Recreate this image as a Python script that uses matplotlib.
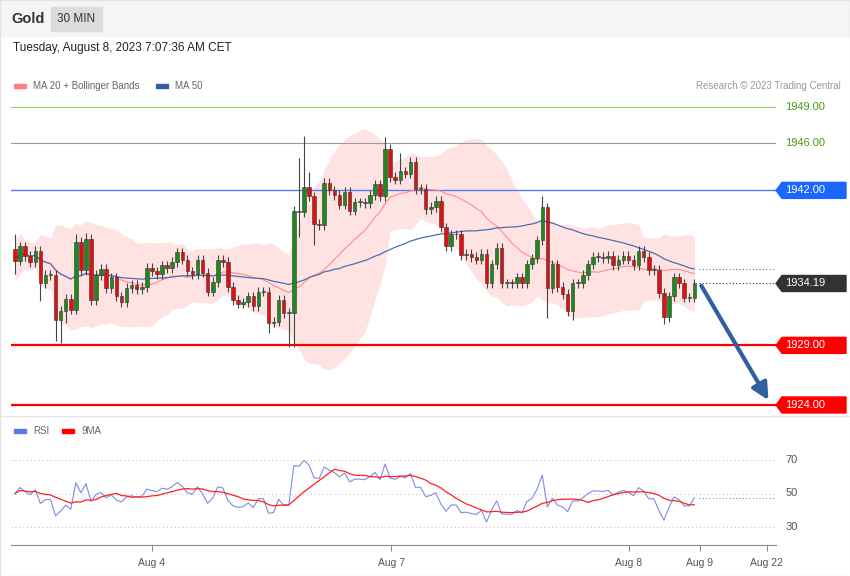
import numpy as np
import pandas as pd
import matplotlib
matplotlib.use("Agg")
import matplotlib.pyplot as plt
from matplotlib.patches import Rectangle, Polygon

plt.rcParams['font.family'] = ['Liberation Sans', 'DejaVu Sans']

# %%
# 30 min closes
closes = [
    1936.1, 1937.3, 1936.5, 1936.0, 1936.9, 1934.2, 1934.9, 1934.9, 1931.1, 1931.9,
    1932.9, 1932.0, 1937.7, 1935.3, 1937.9, 1932.8, 1934.9, 1935.4, 1933.8, 1934.7,
    1933.1, 1932.6, 1933.8, 1934.1, 1933.7, 1933.9, 1935.5, 1935.2, 1935.0, 1935.7,
    1935.5, 1936.0, 1936.8, 1936.2, 1935.2, 1935.0, 1936.2, 1935.1, 1933.5, 1934.3,
    1936.2, 1936.0, 1933.9, 1932.8, 1932.5, 1932.6, 1933.1, 1932.3, 1933.5, 1933.5,
    1930.9, 1931.0, 1932.8, 1931.7, 1931.7, 1940.3, 1940.2, 1942.3, 1941.5, 1939.2,
    1939.1, 1942.6, 1942.0,
    1941.6, 1940.8, 1941.9, 1940.3, 1941.0, 1941.0, 1940.9, 1941.6, 1942.5, 1941.5,
    1945.5, 1943.1, 1942.9, 1943.6, 1943.4, 1944.4, 1942.1, 1942.1, 1940.4, 1940.6,
    1941.1, 1938.9, 1937.3, 1938.3, 1938.3, 1936.6, 1936.7, 1936.4, 1936.2, 1936.7,
    1934.2, 1935.8, 1937.2, 1934.2, 1934.2,
    1934.2, 1934.7, 1934.2, 1935.8, 1936.3, 1937.8, 1940.6, 1933.8, 1935.8, 1933.9,
    1933.3, 1931.9, 1934.2, 1934.2, 1934.9, 1935.8, 1936.4, 1936.4, 1936.3, 1936.5,
    1935.7, 1936.2, 1936.5, 1936.2, 1935.7, 1936.9, 1936.4, 1935.3, 1935.3, 1933.4,
    1931.4, 1933.1, 1934.7, 1934.2, 1933.0, 1933.0, 1934.2,
]
first_open = 1937.1
# notable wicks (candle index: length), others are short
upper_wicks = {0: 1.2, 12: 0.6, 14: 0.5, 56: 4.4, 57: 4.3, 58: 1.2, 73: 1.0, 76: 1.5, 104: 0.9, 105: 0.3}
lower_wicks = {0: 1.1, 5: 1.5, 8: 1.7, 9: 1.9, 10: 1.0, 50: 0.9, 54: 2.8, 55: 2.8, 56: 2.1, 59: 1.8,
               105: 2.5, 110: 0.8, 128: 0.6, 129: 0.4}
rsi_seed = 0.6  # average gain/loss before the first bar

levels = [1949.00, 1946.00, 1942.00, 1934.19, 1929.00, 1924.00]
tick_pos = [27, 74.2, 121.1, 135.1, 148.3]
tick_labels = ['Aug 4', 'Aug 7', 'Aug 8', 'Aug 9', 'Aug 22']

# %%
df = pd.DataFrame({'close': closes})
df['open'] = df['close'].shift(1).fillna(first_open)
df['high'] = df[['open', 'close']].max(axis=1) + pd.Series(upper_wicks).reindex(df.index).fillna(0.4)
df['low'] = df[['open', 'close']].min(axis=1) - pd.Series(lower_wicks).reindex(df.index).fillna(0.4)
ma20 = df['close'].rolling(20, min_periods=1).mean()
sd20 = df['close'].rolling(20, min_periods=2).std().bfill()
ma50 = df['close'].rolling(50, min_periods=1).mean()
delta = df['close'].diff().fillna(0)
g = delta.clip(lower=0)
l = -delta.clip(upper=0)
g.iloc[0] = rsi_seed
l.iloc[0] = rsi_seed
gain = g.ewm(alpha=1 / 14, adjust=False).mean()
loss = l.ewm(alpha=1 / 14, adjust=False).mean()
rsi = 100 - 100 / (1 + gain / loss)
rsi_ma = rsi.rolling(9, min_periods=1).mean()
x = np.arange(len(df))

W, H = 850, 576
fig = plt.figure(figsize=(W / 100, H / 100), dpi=100)
fig.patches.append(Rectangle((0, 0), 1, 1, transform=fig.transFigure, fill=False, ec='#e3e3e3', lw=1))
fig.patches.append(Rectangle((1 / W, 1 - 36 / H), 848 / W, 35 / H, transform=fig.transFigure, color='#f5f5f5', zorder=0))
fig.patches.append(Rectangle((51 / W, 1 - 31 / H), 51 / W, 24 / H, transform=fig.transFigure, color='#dcdcdc', zorder=0))
fig.text(11 / W, 1 - 19 / H, 'Gold', fontsize=10.5, weight='bold', color='#333333', va='center')
fig.text(57 / W, 1 - 19 / H, '30 MIN', fontsize=8.5, color='#333333', va='center')
fig.text(13 / W, 1 - 48 / H, 'Tuesday, August 8, 2023 7:07:36 AM CET', fontsize=8.5, color='#222222', va='center')
fig.patches.append(Rectangle((14 / W, 1 - 88 / H), 12 / W, 4 / H, transform=fig.transFigure, color='#ff8080'))
fig.text(33 / W, 1 - 86 / H, 'MA 20 + Bollinger Bands', fontsize=7, color='#666666', va='center')
fig.patches.append(Rectangle((156 / W, 1 - 88 / H), 12 / W, 4 / H, transform=fig.transFigure, color='#2f5f9e'))
fig.text(175 / W, 1 - 86 / H, 'MA 50', fontsize=7, color='#666666', va='center')
fig.text(841 / W, 1 - 86 / H, 'Research \u00a9 2023 Trading Central', fontsize=7, color='#999999', va='center', ha='right')
fig.lines.append(plt.Line2D([1 / W, 849 / W], [1 - 416 / H] * 2, transform=fig.transFigure, color='#e6e6e6', lw=1))

# %%
# price panel
ax = fig.add_axes([11 / W, 1 - 415 / H, 765 / W, 320 / H])
ax.set_xlim(-0.79, 150.1)
ax.set_ylim(1923.16, 1950.0)
ax.axis('off')
ax.fill_between(x, ma20 - 2 * sd20, ma20 + 2 * sd20, color='#ffe3e3', lw=0, zorder=1)
ax.plot(x, ma20, color='#ff8c8c', lw=0.8, zorder=2)
ax.plot(x, ma50, color='#4a6fb0', lw=0.9, zorder=2)
for i, r in df.iterrows():
    col = '#1e8a1e' if r['close'] >= r['open'] else '#e01010'
    ax.vlines(i, r['low'], r['high'], color='#444444', lw=0.8, zorder=3)
    lo, hi = min(r['open'], r['close']), max(r['open'], r['close'])
    ax.add_patch(Rectangle((i - 0.35, lo), 0.7, max(hi - lo, 0.08), fc=col, ec='#333333', lw=0.4, zorder=4))

lcol = ['#9ccf70', '#9a9a9a', '#4f7fe8', '#333333', '#ff0000', '#ff0000']
lw = [0.9, 0.8, 1.0, 0.8, 1.6, 1.6]
for k, lv in enumerate(levels):
    if k == 3:
        ax.hlines(lv, len(df), 150.1, color=lcol[k], lw=0.8, ls=(0, (1, 2)))
        ax.hlines(ma50.iloc[-1], len(df), 150.1, color='#4a6fb0', lw=0.8, ls=(0, (1, 2)))
    else:
        ax.axhline(lv, color=lcol[k], lw=lw[k], zorder=1)
for k, lv in enumerate(levels):
    ty = fig.transFigure.inverted().transform(ax.transData.transform((0, lv)))[1]
    if k < 2:
        fig.text(785 / W, ty, f'{lv:.2f}', fontsize=8, color='#4a9a10', va='center')
    else:
        bc = {2: '#1a66ff', 3: '#333333', 4: '#ff0000', 5: '#ff0000'}[k]
        pts = [(776 / W, ty), (782 / W, ty + 8 / H), (846 / W, ty + 8 / H), (846 / W, ty - 8 / H), (782 / W, ty - 8 / H)]
        fig.patches.append(Polygon(pts, closed=True, transform=fig.transFigure, color=bc))
        fig.text(785 / W, ty, f'{lv:.2f}', fontsize=8, color='white', va='center')
ax.annotate('', xy=(148.9, 1924.2), xytext=(135.1, 1934.2),
            arrowprops=dict(arrowstyle='-|>,head_length=1.0,head_width=0.5', color='#2f5f9e', lw=3), zorder=6)

# %%
# RSI panel
ax2 = fig.add_axes([11 / W, 1 - 545 / H, 765 / W, 105 / H])
ax2.set_xlim(-0.79, 150.1)
ax2.set_ylim(30 - 18 / 1.675, 30 - 18 / 1.675 + 105 / 1.675)
for s in ['top', 'right', 'left']:
    ax2.spines[s].set_visible(False)
ax2.spines['bottom'].set_color('#888888')
ax2.set_yticks([])
for lv in [70, 50, 30]:
    ax2.axhline(lv, color='#bbbbbb', lw=0.7, ls=(0, (1, 3)))
    ax2.text(1.012, lv, str(lv), transform=ax2.get_yaxis_transform(), fontsize=8, color='#555555', va='center')
ax2.plot(x, rsi, color='#7b8de0', lw=0.8)
ax2.plot(x, rsi_ma, color='#ff2020', lw=0.9)
ax2.hlines(rsi.iloc[-1], len(df), 150.1, color='#7b8de0', lw=0.8, ls=(0, (1, 2)))
ax2.set_xticks(tick_pos)
ax2.set_xticklabels(tick_labels, fontsize=7.5, color='#555555')
ax2.tick_params(axis='x', length=4, color='#888888', pad=5)
fig.patches.append(Rectangle((14 / W, 1 - 433 / H), 12 / W, 4 / H, transform=fig.transFigure, color='#5b7be0'))
fig.text(33 / W, 1 - 431 / H, 'RSI', fontsize=7, color='#666666', va='center')
fig.patches.append(Rectangle((62 / W, 1 - 433 / H), 12 / W, 4 / H, transform=fig.transFigure, color='#ff0000'))
fig.text(82 / W, 1 - 431 / H, '9MA', fontsize=7, color='#666666', va='center')

fig.savefig('out.png', dpi=100)
